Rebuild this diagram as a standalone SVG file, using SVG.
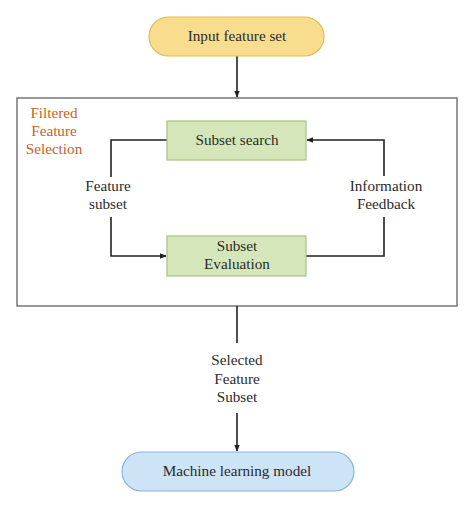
<svg xmlns="http://www.w3.org/2000/svg" width="474" height="509" viewBox="0 0 474 509">
<style>
text{font-family:"Liberation Serif","Times New Roman",serif;font-size:15.2px;fill:#2b2b2b;text-anchor:middle}
.o{fill:#c6622a}
.c{fill:none;stroke:#222;stroke-width:1.6}
</style>
<defs>
<marker id="ah" viewBox="0 0 10 10" refX="9" refY="5" markerWidth="7" markerHeight="7" markerUnits="userSpaceOnUse" orient="auto">
<path d="M0,1 L10,5 L0,9 Z" fill="#222"/>
</marker>
</defs>
<rect width="474" height="509" fill="#fff"/>
<g id="container">
<rect x="17" y="98" width="440" height="208" fill="none" stroke="#6e6e6e" stroke-width="1.4"/>
<text class="o" x="54" y="118">Filtered</text>
<text class="o" x="54" y="136">Feature</text>
<text class="o" x="54" y="154">Selection</text>
</g>
<g id="connectors">
<path class="c" d="M237,56 V97" marker-end="url(#ah)"/>
<path class="c" d="M167,140 H111 V177"/>
<path class="c" d="M111,217 V256 H166" marker-end="url(#ah)"/>
<path class="c" d="M306,256 H384 V217"/>
<path class="c" d="M384,176 V140 H307" marker-end="url(#ah)"/>
<path class="c" d="M237,306 V343"/>
<path class="c" d="M237,413 V451" marker-end="url(#ah)"/>
<text x="108" y="191">Feature</text>
<text x="108" y="209">subset</text>
<text x="386" y="191">Information</text>
<text x="386" y="209">Feedback</text>
<text x="237" y="365">Selected</text>
<text x="237" y="384">Feature</text>
<text x="237" y="402">Subset</text>
</g>
<g id="input">
<rect x="149" y="17" width="175" height="39" rx="19.5" fill="#f9dd8e" stroke="#e2bd55" stroke-width="1.2"/>
<text x="237" y="41">Input feature set</text>
</g>
<g id="subset-search">
<rect x="167" y="121" width="139" height="39" fill="#d5e7ba" stroke="#a5c67c" stroke-width="1.2"/>
<text x="237" y="145">Subset search</text>
</g>
<g id="subset-evaluation">
<rect x="167" y="236" width="139" height="40" fill="#d5e7ba" stroke="#a5c67c" stroke-width="1.2"/>
<text x="237" y="251">Subset</text>
<text x="237" y="269">Evaluation</text>
</g>
<g id="ml-model">
<rect x="122" y="452" width="232" height="39" rx="19.5" fill="#cde3f6" stroke="#8cb6da" stroke-width="1.2"/>
<text x="237" y="476">Machine learning model</text>
</g>
</svg>
